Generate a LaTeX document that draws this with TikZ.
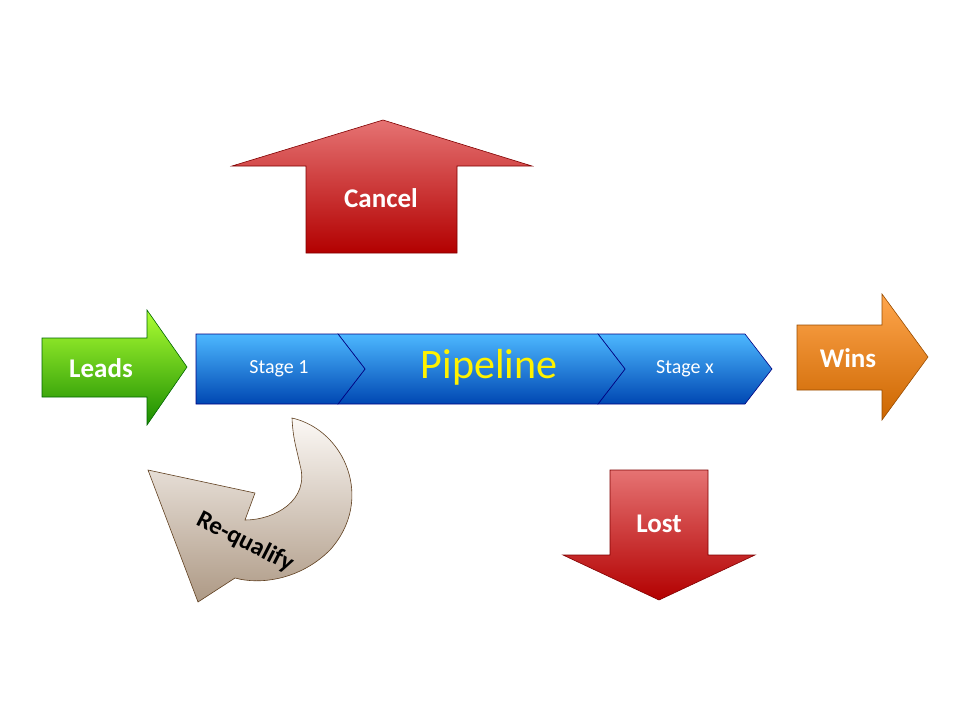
\documentclass[tikz,border=0pt]{standalone}
\usepackage{fontspec}
\setmainfont{Carlito}
\begin{document}
\begin{tikzpicture}[x=1pt,y=-1pt,
 lbl/.style={font=\bfseries\fontsize{27}{30}\selectfont,text=white},
 slbl/.style={font=\fontsize{20}{24}\selectfont,text=white},
 red/.style={top color=red!50!white!90!black,bottom color=red!70!black,draw=red!50!black,line width=0.6pt},
 blu/.style={top color=blue!40!cyan!70!white,bottom color=blue!60!cyan!70!black,draw=blue!50!black,line width=0.6pt}]
\useasboundingbox (0,0) rectangle (960,720);
% Cancel
\path[red] (383,120) -- (532,166) -- (457,166) -- (457,253) -- (306,253) -- (306,166) -- (232,166) -- cycle;
\node[lbl] (cancel) at (381,198) {Cancel};
% Leads
\path[top color=yellow!60!green!80!white,bottom color=green!50!black!90!yellow,draw=green!40!black,line width=0.6pt]
 (42,338) -- (147,338) -- (147,310) -- (187,367) -- (147,425) -- (147,397) -- (42,397) -- cycle;
\node[lbl] (leads) at (101,368) {Leads};
% Pipeline
\path[blu] (598,334) -- (745,334) -- (772,369) -- (745,404) -- (598,404) -- (625,369) -- cycle;
\path[blu] (338,334) -- (598,334) -- (625,369) -- (598,404) -- (338,404) -- (365,369) -- cycle;
\path[blu] (196,334) -- (338,334) -- (365,369) -- (338,404) -- (196,404) -- cycle;
\node[slbl] (s1) at (279,369) {Stage 1};
\node[font=\fontsize{42}{46}\selectfont,text=yellow] (pipe) at (489,367) {Pipeline};
\node[slbl] (sx) at (685,369) {Stage x};
% Wins
\path[top color=orange!70!white,bottom color=orange!80!black,draw=orange!60!black,line width=0.6pt]
 (797,325) -- (882,325) -- (882,294) -- (928,357) -- (882,420) -- (882,390) -- (797,390) -- cycle;
\node[lbl] (wins) at (848,358) {Wins};
% Lost
\path[red] (610,470) -- (708,470) -- (708,555) -- (755,555) -- (659,600) -- (563,555) -- (610,555) -- cycle;
\node[lbl] (lost) at (659,524) {Lost};
% Re-qualify
\path[top color=white!95!brown,bottom color=brown!40!gray!80!white,draw=brown!50!black,line width=0.6pt]
 (292,418) .. controls (345,430) and (375,500) .. (330,550)
 .. controls (300,580) and (260,585) .. (235,578)
 -- (198,602) -- (148,470) -- (255,493)
 -- (245,520) .. controls (275,520) and (310,500) .. (300,465)
 .. controls (297,450) and (293,440) .. cycle;
\node[font=\bfseries\fontsize{25}{28}\selectfont,rotate=-27] (rq) at (245,542) {Re-qualify};
\end{tikzpicture}
\end{document}
